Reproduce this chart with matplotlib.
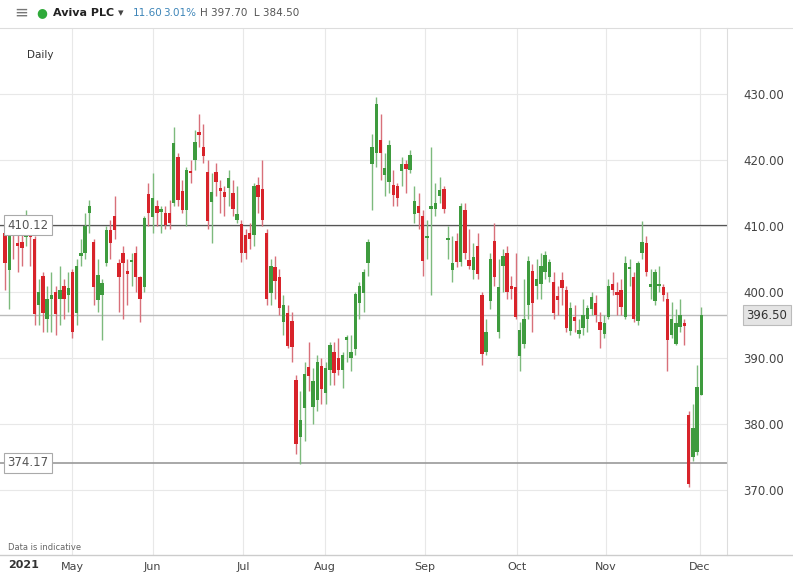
import matplotlib
matplotlib.use("Agg")
import matplotlib.pyplot as plt
import numpy as np

# daily OHLC (Apr 14 2021 .. Dec 1 2021)
opens = [409.0, 403.3, 409.2, 407.4, 407.6, 408.3, 408.8, 408.0, 398.0, 402.4, 396.0, 399.0, 400.0, 399.0, 401.0, 399.5, 403.0,
         396.8, 405.5, 406.0, 412.0, 407.6, 398.8, 399.5, 404.4, 409.4, 411.5, 404.4, 406.0, 403.0, 404.5, 406.0, 402.3,
         400.8, 414.8, 411.4, 413.0, 412.2, 412.0, 412.0, 413.5, 420.5, 415.3, 412.4, 418.4, 420.0, 424.2, 422.0, 418.2,
         413.6, 418.2, 415.8, 415.2, 415.8, 415.0, 410.9, 410.3, 408.6, 409.0, 408.6, 416.2, 415.6, 409.0,
         399.8, 403.8, 402.3, 395.5, 396.8, 395.6, 386.7, 378.0, 382.4, 388.6, 382.6, 383.6, 388.8, 384.7, 388.2, 391.0,
         390.0, 388.2, 392.8, 390.0, 391.4, 398.3, 399.8, 404.4,
         419.4, 421.0, 423.0, 417.7, 416.7, 416.2, 416.0, 418.3, 419.4, 418.5, 411.8, 413.0, 411.6, 408.2, 412.6, 412.6,
         414.5, 415.6, 407.9, 403.3, 407.7, 404.5, 412.4, 404.8, 403.3, 407.0,
         399.5, 391.0, 398.6, 407.7, 394.0, 404.0, 406.0,
         401.0, 400.8, 390.3, 392.1, 398.0, 403.2, 401.0, 401.2, 403.0, 402.3, 401.5, 399.4, 401.8, 400.4, 394.1, 396.2,
         393.6, 394.5, 396.0, 397.4, 398.3, 395.5, 393.6, 396.2, 401.2, 399.8, 400.3, 396.2, 403.5, 402.3, 395.6, 406.0,
         407.4, 400.8, 398.7, 400.9, 400.8, 399.0, 393.5, 392.1, 394.8, 395.3, 381.4, 375.0, 375.8, 384.5]
highs = [410.5, 410.0, 411.0, 409.0, 411.0, 412.5, 410.0, 408.5, 402.0, 403.0, 401.0, 403.0, 401.0, 404.0, 402.0, 403.0, 403.5,
         405.0, 408.0, 412.0, 414.0, 408.0, 405.0, 402.0, 410.0, 411.0, 414.5, 405.0, 407.0, 405.0, 406.0, 407.0, 402.5,
         411.5, 416.5, 418.0, 414.0, 413.0, 413.0, 414.0, 425.0, 421.0, 417.0, 419.0, 420.0, 424.5, 427.0, 425.5, 420.0,
         418.0, 419.5, 417.0, 416.0, 418.5, 417.0, 416.0, 411.0, 409.5, 410.5, 416.5, 417.5, 420.0, 409.5,
         405.0, 405.5, 403.5, 399.5, 398.0, 397.0, 387.5, 385.0, 389.5, 392.5, 388.5, 390.5, 390.0, 389.5, 392.5, 392.5,
         393.0, 391.0, 393.5, 393.5, 400.0, 401.5, 403.5, 408.0,
         424.0, 429.5, 427.0, 421.0, 423.0, 418.5, 416.5, 420.5, 420.0, 421.5, 416.0, 415.0, 412.5, 411.0, 422.0, 416.5,
         417.5, 416.0, 410.0, 408.5, 409.0, 413.5, 413.5, 409.5, 407.5, 409.0,
         400.0, 396.0, 406.0, 410.5, 405.0, 406.5, 407.0,
         402.5, 406.0, 395.5, 402.0, 405.5, 404.2, 405.0, 406.0, 406.2, 405.0, 403.0, 401.0, 403.0, 401.0, 398.5, 398.0,
         396.0, 399.0, 398.0, 400.0, 399.5, 397.0, 396.5, 402.0, 403.0, 401.5, 402.0, 405.5, 405.0, 403.0, 404.7, 410.8,
         408.5, 403.5, 403.5, 404.0, 401.2, 400.0, 398.5, 397.5, 399.0, 396.0, 382.0, 383.0, 389.0, 397.7]
lows = [400.3, 397.5, 405.0, 403.0, 404.0, 407.0, 404.0, 395.0, 395.0, 394.0, 394.0, 394.0, 393.5, 395.0, 396.0, 397.0, 393.0,
        395.0, 404.0, 405.0, 409.0, 398.0, 397.0, 392.7, 404.0, 405.0, 408.0, 397.0, 396.0, 398.0, 401.0, 400.0, 395.5,
        400.0, 410.0, 409.0, 410.0, 409.0, 409.5, 409.5, 413.0, 413.0, 412.0, 410.0, 416.5, 418.5, 422.0, 419.5, 409.5,
        407.5, 414.5, 412.0, 411.5, 413.0, 411.5, 410.5, 404.5, 405.0, 406.5, 407.0, 412.0, 410.0, 398.0,
        398.0, 399.0, 396.5, 393.5, 391.5, 389.5, 375.5, 374.0, 377.5, 385.0, 380.0, 382.0, 383.0, 383.0, 386.0, 386.0,
        387.5, 385.5, 389.5, 388.0, 390.5, 396.0, 397.0, 402.5,
        412.4, 419.0, 417.0, 414.5, 415.0, 413.0, 413.0, 416.0, 415.0, 418.0, 410.5, 409.5, 402.5, 405.0, 399.5, 411.5,
        413.5, 412.0, 405.0, 401.5, 403.8, 404.0, 405.0, 403.5, 402.0, 402.0,
        389.0, 390.5, 397.5, 401.0, 393.0, 400.0, 399.0,
        399.0, 396.0, 388.0, 391.5, 396.0, 394.0, 399.0, 399.0, 402.0, 401.5, 396.0, 396.5, 398.0, 394.0, 393.5, 394.0,
        393.0, 393.5, 394.0, 396.5, 395.5, 391.5, 393.0, 396.0, 399.5, 396.5, 396.5, 396.0, 401.0, 395.5, 395.0, 405.0,
        402.5, 399.0, 398.0, 400.0, 398.7, 388.0, 393.0, 392.0, 394.0, 392.0, 370.5, 374.5, 375.3, 384.5]
closes = [404.4, 408.8, 408.8, 407.0, 406.7, 409.0, 408.4, 396.7, 400.0, 396.8, 399.0, 399.5, 396.7, 400.3, 399.0, 400.6, 394.0,
          404.0, 406.0, 410.0, 413.0, 400.8, 402.6, 401.4, 409.4, 407.4, 409.4, 402.3, 404.4, 402.8, 404.8, 402.3, 399.0,
          411.2, 412.0, 414.2, 412.0, 412.6, 410.2, 410.5, 422.6, 414.0, 412.4, 418.5, 418.0, 422.7, 423.8, 420.6, 410.8,
          415.2, 416.7, 415.3, 414.4, 417.3, 412.6, 411.8, 405.9, 406.0, 408.0, 416.0, 414.4, 411.0, 399.0,
          404.0, 401.7, 397.6, 398.0, 391.8, 391.7, 377.0, 380.6, 387.6, 387.3, 386.5, 389.4, 385.3, 388.5, 392.0, 387.7,
          388.2, 390.5, 393.0, 391.0, 399.7, 401.0, 403.0, 407.6,
          422.0, 428.5, 421.0, 418.8, 422.3, 414.7, 414.2, 419.4, 418.6, 420.8, 413.8, 412.0, 404.7, 408.5, 413.0, 413.5,
          415.5, 412.6, 408.2, 404.4, 404.5, 413.0, 405.9, 404.0, 405.3, 402.7,
          390.6, 394.0, 405.0, 402.3, 400.8, 405.5, 400.0,
          400.5, 396.2, 394.2, 396.0, 404.7, 398.3, 402.0, 404.0, 405.6, 404.5, 396.8, 398.8, 400.6, 394.6, 397.6, 395.6,
          394.2, 396.5, 397.6, 399.2, 396.5, 394.2, 395.3, 401.0, 400.3, 399.6, 397.7, 404.4, 403.7, 396.0, 404.4, 407.6,
          403.0, 401.2, 403.0, 401.1, 399.5, 392.7, 396.0, 395.3, 396.5, 394.9, 371.0, 379.5, 385.6, 396.5]

month_labels = ["May", "Jun", "Jul", "Aug", "Sep", "Oct", "Nov", "Dec"]
month_pos = [15.9, 35.0, 56.4, 75.8, 99.5, 121.3, 142.4, 164.7]
levels = [410.12, 374.17]
last_price = 396.50

GREEN = "#3e9b3e"
RED = "#d8232a"
GREEN_W = "#7dba7d"
RED_W = "#d8707a"

o = np.array(opens); h = np.array(highs); l = np.array(lows); c = np.array(closes)
x = np.arange(len(o))
up = c >= o

fig = plt.figure(figsize=(7.93, 5.76), dpi=100)
ax = fig.add_axes([0, 21/576, 727/793, 527/576])
ax.set_xlim(-1.18, 171.1)
ax.set_ylim(360.2, 440)

# grid
for yv in range(370, 440, 10):
    ax.axhline(yv, color="#e8e8e8", lw=0.8, zorder=0)
for xv in month_pos:
    ax.axvline(xv, color="#e8e8e8", lw=0.8, zorder=0)

# candles
ax.vlines(x[up], l[up], h[up], color=GREEN_W, lw=1, zorder=2)
ax.vlines(x[~up], l[~up], h[~up], color=RED_W, lw=1, zorder=2)
body = np.maximum(np.abs(c - o), 0.35)
ax.bar(x[up], body[up], bottom=np.minimum(o, c)[up], width=0.8, color=GREEN, zorder=3)
ax.bar(x[~up], body[~up], bottom=np.minimum(o, c)[~up], width=0.8, color=RED, zorder=3)

# level lines
ax.axhline(levels[0], color="#555555", lw=0.9, zorder=1)
ax.axhline(levels[1], color="#999999", lw=1.2, zorder=1)
ax.axhline(last_price, color="#bbbbbb", lw=1.0, zorder=1)
for lv in levels:
    ax.text(0.5, lv, "%.2f" % lv, fontsize=8.5, color="#555555", va="center", ha="left",
            bbox=dict(boxstyle="square,pad=0.3", fc="white", ec="#aaaaaa", lw=0.8), zorder=5)

# axes styling
for s in ["top", "left", "bottom"]:
    ax.spines[s].set_visible(False)
ax.spines["right"].set_color("#dddddd")
ax.yaxis.tick_right()
ax.set_yticks(range(370, 440, 10))
ax.set_yticklabels(["%.2f" % v for v in range(370, 440, 10)])
ax.tick_params(axis="y", length=0, pad=12, labelsize=8.5, labelcolor="#444444")
ax.set_xticks(month_pos)
ax.set_xticklabels(month_labels)
ax.tick_params(axis="x", length=0, pad=5, labelsize=8, labelcolor="#444444")
ax.text(1.055, last_price, "%.2f" % last_price, transform=ax.get_yaxis_transform(),
        fontsize=8.5, color="#333333", va="center", ha="center",
        bbox=dict(boxstyle="square,pad=0.3", fc="#e4e4e4", ec="#bbbbbb", lw=0.8), clip_on=False)

# header and annotations
hy = 1 - 13/576
fig.add_artist(plt.Line2D([0, 1], [1 - 28/576, 1 - 28/576], color="#dddddd", lw=0.8))
fig.add_artist(plt.Line2D([0, 1], [21/576, 21/576], color="#cccccc", lw=1.0))
fig.text(14/793, hy, "\u2261", fontsize=12, color="#777777", va="center")
fig.text(42/793, hy, "\u25CF", fontsize=9, color="#2faa3a", va="center", ha="center")
fig.text(53/793, hy, "Aviva PLC", fontsize=8, color="#222222", fontweight="bold", va="center")
fig.text(121/793, hy, "\u25BE", fontsize=8, color="#444444", va="center", ha="center")
fig.text(133/793, hy, "11.60", fontsize=7.5, color="#3d85b8", va="center")
fig.text(163/793, hy, "3.01%", fontsize=7.5, color="#3d85b8", va="center")
fig.text(200/793, hy, "H 397.70  L 384.50", fontsize=7.5, color="#555555", va="center")
fig.text(27/793, 1 - 55/576, "Daily", fontsize=7.5, color="#333333", va="center")
fig.text(8/793, 1 - 548/576, "Data is indicative", fontsize=6, color="#666666", va="center")
fig.text(8/793, 1 - 565/576, "2021", fontsize=8, color="#333333", fontweight="bold", va="center")

fig.savefig("out.png", dpi=100)
